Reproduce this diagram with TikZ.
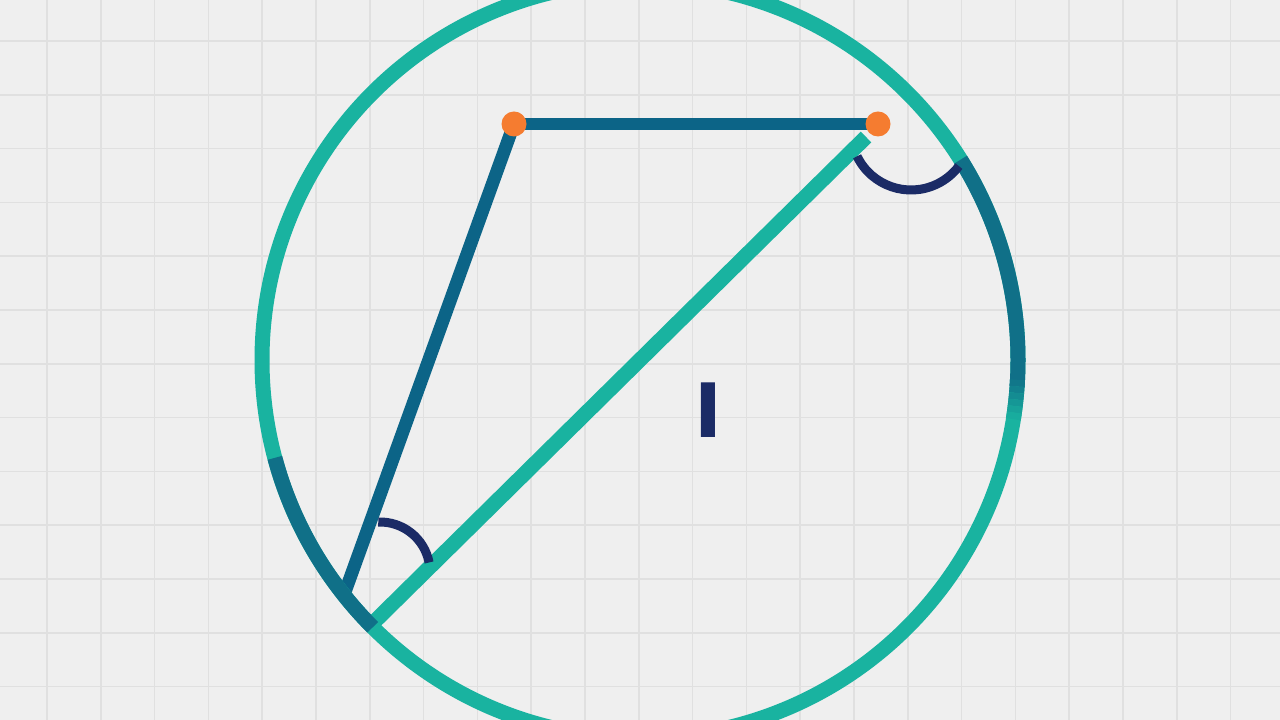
\documentclass[tikz,border=0pt]{standalone}
\usepackage{fontspec}
\newfontfamily\dvsans{DejaVu Sans}
\definecolor{bg}{HTML}{EFEFEF}
\definecolor{gridc}{HTML}{E0E0E0}
\definecolor{tealc}{HTML}{19B3A0}
\definecolor{darkarc}{HTML}{107088}
\definecolor{darkline}{HTML}{0C6487}
\definecolor{navyc}{HTML}{1B2B66}
\definecolor{orangec}{HTML}{F57C30}
\tikzset{
  gridline/.style={draw=gridc, line width=1.5},
  ringstyle/.style={draw=tealc, line width=15},
  ringdark/.style={draw=darkarc, line width=15},
  sideline/.style={draw=darkline, line width=13},
  chordline/.style={draw=darkline, line width=12},
  diagline/.style={draw=tealc, line width=15},
  anglemark/.style={draw=navyc, line width=9},
  vertexdot/.style={circle, fill=orangec, inner sep=0, minimum size=25},
  labeltext/.style={font=\dvsans\bfseries\fontsize{75}{75}\selectfont, text=navyc, inner sep=0, anchor=base}
}
\begin{document}
\begin{tikzpicture}[x=1pt,y=1pt]
\useasboundingbox (0,0) rectangle (1280,720);
\fill[bg] (0,0) rectangle (1280,720);
% grid
\foreach \k in {0,...,22} {
  \draw[gridline] ({47+53.8*\k},0) -- ({47+53.8*\k},720);
}
\foreach \k in {0,...,12} {
  \draw[gridline] (0,{720-41-53.8*\k}) -- (1280,{720-41-53.8*\k});
}
% key points
\coordinate (O) at (640,360);
\coordinate (pA) at (514,596);
\coordinate (pB) at (878,596);
\coordinate (pC) at (345,128);
\coordinate (pD) at (368,92);
\coordinate (pE) at (866,583);
% lines
\draw[sideline] (pA) -- (pC);
\draw[chordline] (pA) -- (pB);
\draw[diagline] (pD) -- (pE);
% circle
\draw[ringstyle] (O) circle[radius=378];
\draw[ringdark] (O) ++(195:378) arc[start angle=195, end angle=225, radius=378];
\draw[ringdark] (O) ++(-4:378) arc[start angle=-4, end angle=32, radius=378];
\foreach \i in {0,...,5} {
  \pgfmathsetmacro{\mixv}{int(90-\i*16)}
  \draw[draw=darkarc!\mixv!tealc, line width=15] (O) ++({-4-\i}:378) arc[start angle={-4-\i}, end angle={-3-\i}, radius=378];
}
% angle marks
\draw[anglemark] (911,590) ++(206:60) arc[start angle=206, end angle=323, radius=60];
\draw[anglemark] (380,148) ++(92:50) arc[start angle=92, end angle=11, radius=50];
% vertices
\node[vertexdot] (dotA) at (pA) {};
\node[vertexdot] (dotB) at (pB) {};
% label
\node[labeltext] (lbl) at (708.5,282.7) {I};
\end{tikzpicture}
\end{document}
